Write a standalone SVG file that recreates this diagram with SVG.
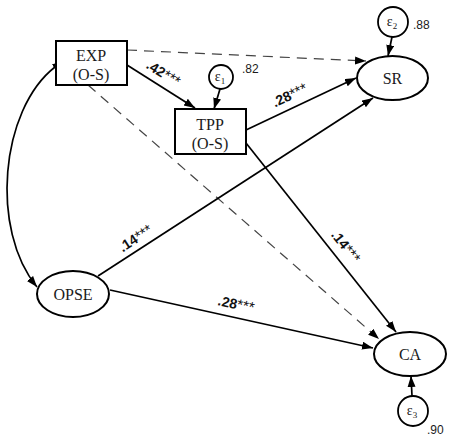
<svg xmlns="http://www.w3.org/2000/svg" width="474" height="437" viewBox="0 0 474 437">
<style>
.box{fill:#fff;stroke:#000;stroke-width:2}
.ell{fill:#fff;stroke:#000;stroke-width:2}
.err{fill:#fff;stroke:#000;stroke-width:1.8}
.lbl{font-family:"Liberation Serif","Times New Roman",serif;font-size:16px;fill:#1a1a1a;text-anchor:middle}
.eps{font-family:"Liberation Serif","Times New Roman",serif;font-size:14px;fill:#1a1a1a;text-anchor:middle}
.val{font-family:"Liberation Sans",Arial,sans-serif;font-size:12px;fill:#1a1a1a}
.coef{font-family:"Liberation Sans",Arial,sans-serif;font-size:14px;font-weight:bold;fill:#111;text-anchor:middle}
.star{font-weight:normal;font-size:15px}
.solid{fill:none;stroke:#000;stroke-width:1.7}
.dash{fill:none;stroke:#444;stroke-width:1.2;stroke-dasharray:10,7}
</style>
<defs>
<marker id="ah" markerUnits="userSpaceOnUse" markerWidth="12" markerHeight="10" refX="11" refY="4" orient="auto">
<path d="M0,0 L11,4 L0,8 Z" fill="#000"/>
</marker>
<marker id="ahs" markerUnits="userSpaceOnUse" markerWidth="12" markerHeight="10" refX="1" refY="4" orient="auto-start-reverse">
<path d="M0,0 L11,4 L0,8 Z" fill="#000"/>
</marker>
</defs>
<g id="connectors">
<path class="dash" d="M127,50 L366,61" marker-end="url(#ah)"/>
<path class="dash" d="M88,85 L379,339" marker-end="url(#ah)"/>
<path class="solid" d="M127,65 L195,108" marker-end="url(#ah)"/>
<path class="solid" d="M246,130 L356,78" marker-end="url(#ah)"/>
<path class="solid" d="M246,143 L396,332" marker-end="url(#ah)"/>
<path class="solid" d="M98,276 L373,98" marker-end="url(#ah)"/>
<path class="solid" d="M110,290 L373,348" marker-end="url(#ah)"/>
<path class="solid" d="M220,89 L214,109" marker-end="url(#ah)"/>
<path class="solid" d="M392,37 L388,56" marker-end="url(#ah)"/>
<path class="solid" d="M412,396 L411,376" marker-end="url(#ah)"/>
<path class="solid" d="M55,67 C0,110 -10,230 37,287" marker-start="url(#ahs)" marker-end="url(#ah)"/>
<g transform="translate(163,74) rotate(32)"><text class="coef" y="4">.42<tspan class="star">***</tspan></text></g>
<g transform="translate(290,96) rotate(-25)"><text class="coef" y="4">.28<tspan class="star">***</tspan></text></g>
<g transform="translate(136,239) rotate(-33)"><text class="coef" y="4">.14<tspan class="star">***</tspan></text></g>
<g transform="translate(345,247) rotate(52)"><text class="coef" y="4">.14<tspan class="star">***</tspan></text></g>
<g transform="translate(236,305) rotate(12)"><text class="coef" y="4">.28<tspan class="star">***</tspan></text></g>
</g>
<g id="EXP">
<rect class="box" x="56" y="41" width="71" height="44"/>
<text class="lbl" x="91" y="61">EXP</text>
<text class="lbl" x="91" y="80">(O-S)</text>
</g>
<g id="TPP">
<rect class="box" x="175" y="109" width="71" height="45"/>
<text class="lbl" x="210" y="130">TPP</text>
<text class="lbl" x="210" y="149">(O-S)</text>
</g>
<g id="e1">
<circle class="err" cx="221" cy="77" r="12"/>
<text class="eps" x="220" y="81">ε<tspan font-size="9" dy="3">1</tspan></text>
<text class="val" x="242" y="73">.82</text>
</g>
<g id="SR">
<ellipse class="ell" cx="392.5" cy="78" rx="35.5" ry="22"/>
<text class="lbl" x="392.5" y="84">SR</text>
</g>
<g id="e2">
<circle class="err" cx="393" cy="22" r="15"/>
<text class="eps" x="392" y="26">ε<tspan font-size="9" dy="3">2</tspan></text>
<text class="val" x="413" y="29">.88</text>
</g>
<g id="OPSE">
<ellipse class="ell" cx="73" cy="294" rx="36" ry="23"/>
<text class="lbl" x="73" y="300">OPSE</text>
</g>
<g id="CA">
<ellipse class="ell" cx="410" cy="354" rx="36" ry="22"/>
<text class="lbl" x="410" y="360">CA</text>
</g>
<g id="e3">
<circle class="err" cx="413" cy="411" r="15"/>
<text class="eps" x="412" y="415">ε<tspan font-size="9" dy="3">3</tspan></text>
<text class="val" x="427" y="434">.90</text>
</g>
</svg>
